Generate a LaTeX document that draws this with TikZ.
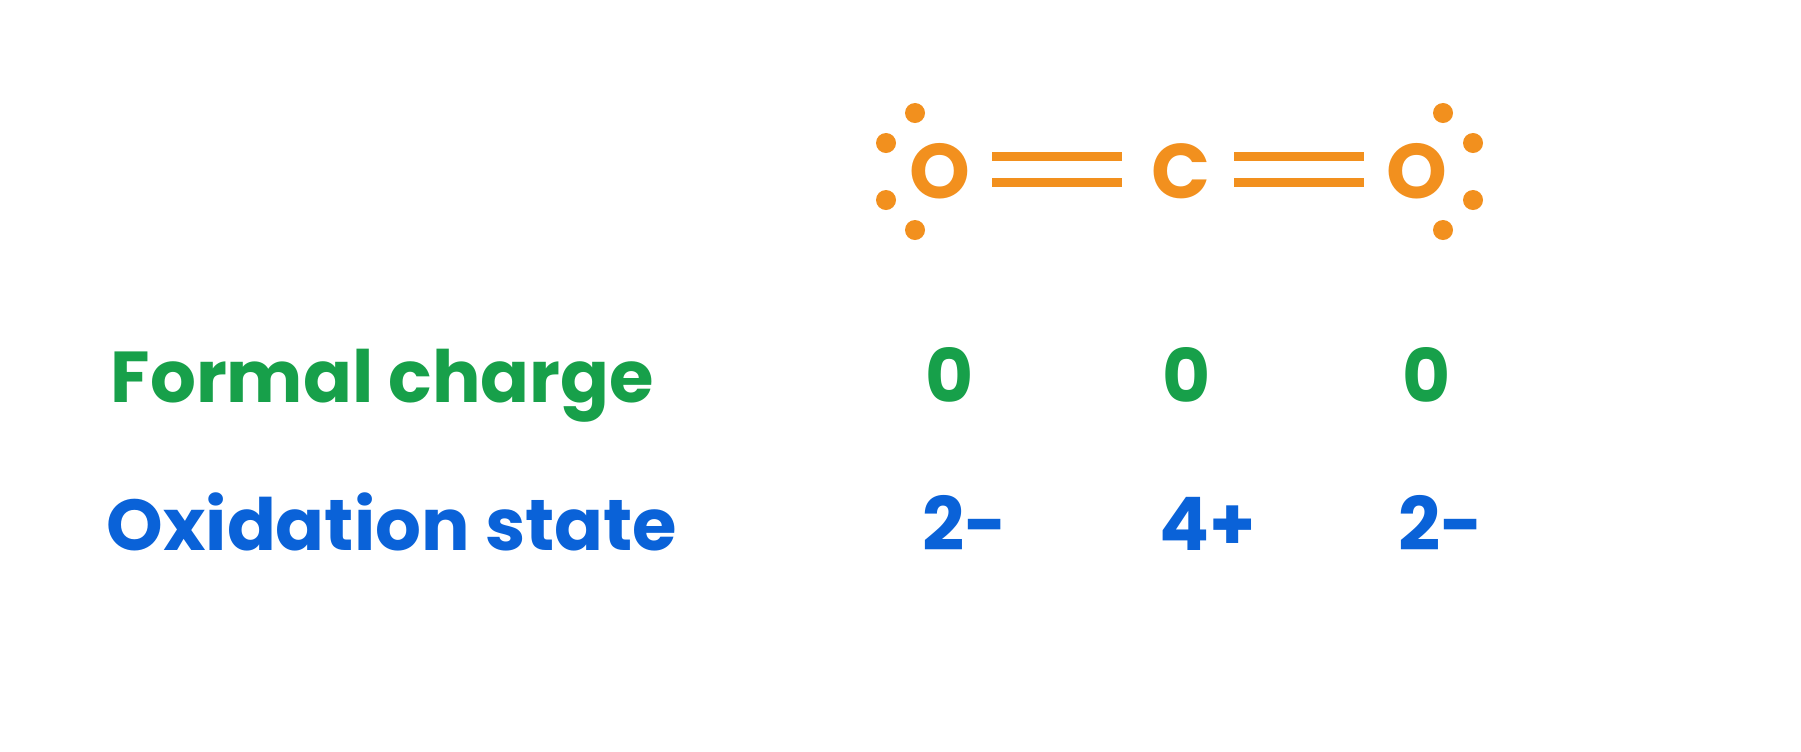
\documentclass[tikz,border=0pt]{standalone}
\usepackage{fontspec}
\setmainfont{Poppins}
\definecolor{orng}{HTML}{F2901E}
\definecolor{grn}{HTML}{17A04A}
\definecolor{blu}{HTML}{0A62D8}
\begin{document}
\begin{tikzpicture}[x=0.01cm,y=-0.01cm,
  atom/.style={text=orng,font=\fontsize{22pt}{24pt}\selectfont\bfseries,inner sep=0pt,anchor=center},
  lbl/.style={font=\fontsize{20.5pt}{24pt}\selectfont\bfseries,inner sep=0pt,anchor=base west},
  num/.style={font=\fontsize{21pt}{24pt}\selectfont\bfseries,inner sep=0pt,anchor=base},
  dot/.style={circle,fill=orng,minimum size=0.2cm,inner sep=0pt},
  bond/.style={orng,line width=0.09cm}]
\useasboundingbox (0,0) rectangle (1801,751);
\node[atom] (o1) at (940,171) {O};
\node[atom] (c) at (1181,171) {C};
\node[atom] (o2) at (1417,171) {O};
\node[dot] (d1) at (915,113) {};
\node[dot] (d2) at (886,143) {};
\node[dot] (d3) at (886,200) {};
\node[dot] (d4) at (915,230) {};
\node[dot] (d5) at (1443,113) {};
\node[dot] (d6) at (1473,143) {};
\node[dot] (d7) at (1473,200) {};
\node[dot] (d8) at (1443,230) {};
\coordinate (a1) at (992,156); \coordinate (a2) at (1122,156);
\coordinate (b1) at (992,182); \coordinate (b2) at (1122,182);
\coordinate (e1) at (1234,156); \coordinate (e2) at (1364,156);
\coordinate (f1) at (1234,182); \coordinate (f2) at (1364,182);
\draw[bond] (a1) -- (a2); \draw[bond] (b1) -- (b2);
\draw[bond] (e1) -- (e2); \draw[bond] (f1) -- (f2);
\node[lbl,text=grn] (fc) at (110,402) {Formal charge};
\node[lbl,text=blu] (os) at (106,550) {Oxidation state};
\node[num,text=grn] (n1) at (950,402) {0};
\node[num,text=grn] (n2) at (1187,402) {0};
\node[num,text=grn] (n3) at (1427,402) {0};
\node[num,text=blu] (m1) at (965,550) {2-};
\node[num,text=blu] (m2) at (1208,550) {4+};
\node[num,text=blu] (m3) at (1441,550) {2-};
\end{tikzpicture}
\end{document}
